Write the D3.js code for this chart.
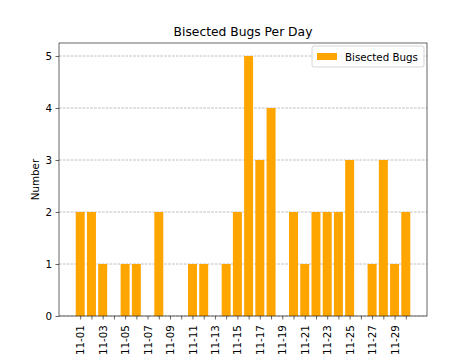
<!DOCTYPE html>
<html>
<head>
<meta charset="utf-8">
<script src="https://cdn.jsdelivr.net/npm/d3@7"></script>
<style>
  body { margin: 0; background: #fff; }
  text { font-family: "DejaVu Sans", sans-serif; }
</style>
</head>
<body>
<div id="chart"></div>
<script>
// days of November and bisected bug counts
const days = d3.range(1, 31).map(d => `11-${String(d).padStart(2, "0")}`)
const bugs = [2, 2, 1, 0, 1, 1, 0, 2, 0, 0, 1, 1, 0, 1, 2, 5, 3, 4, 0, 2, 1, 2, 2, 2, 3, 0, 1, 3, 1, 2]
const yTicks = [0, 1, 2, 3, 4, 5]

const width = 474,
    height = 355
const margin = { top: 43, right: 47, bottom: 39, left: 59 }
const innerW = width - margin.left - margin.right,
    innerH = height - margin.top - margin.bottom

const svg = d3.select("#chart")
    .append("svg")
    .attr("width", width)
    .attr("height", height)

const g = svg.append("g")
    .attr("transform", `translate(${margin.left},${margin.top})`)

// linear scale over day index, matplotlib-like padding
const x = d3.scaleLinear()
    .domain([-0.4 - 1.49, 29.4 + 1.49])
    .range([0, innerW])
const y = d3.scaleLinear()
    .domain([0, 5.25])
    .range([innerH, 0])

// gridlines
g.append("g")
    .selectAll("line")
    .data(yTicks)
    .join("line")
    .attr("x1", 0)
    .attr("x2", innerW)
    .attr("y1", d => y(d))
    .attr("y2", d => y(d))
    .attr("stroke", "#b0b0b0")
    .attr("stroke-width", 0.8)
    .attr("stroke-dasharray", "2.7,1.2")

// bars
const barW = x(0.8) - x(0)
g.append("g")
    .selectAll("rect")
    .data(bugs.map((v, i) => ({ day: days[i], i, v })).filter(d => d.v > 0))
    .join("rect")
    .attr("x", d => x(d.i) - barW / 2)
    .attr("width", barW)
    .attr("y", d => y(d.v))
    .attr("height", d => y(0) - y(d.v))
    .attr("fill", "#FFA500")

// x axis: tick at every day, label every other day
const xAxis = g.append("g")
    .attr("transform", `translate(0,${innerH})`)
    .call(d3.axisBottom(x)
        .tickValues(d3.range(days.length))
        .tickSize(3.5)
        .tickPadding(2.5)
        .tickFormat(i => i % 2 === 0 ? days[i] : ""))
xAxis.select(".domain").remove()
xAxis.selectAll("line").attr("stroke", "#000").attr("stroke-width", 0.6)
xAxis.selectAll("text")
    .attr("font-size", 10.3)
    .attr("fill", "#000")
    .attr("transform", "rotate(-90)")
    .attr("text-anchor", "end")
    .attr("dx", "-0.3em")
    .attr("dy", "0.35em")
    .attr("x", -6)
    .attr("y", 0)

// y axis
const yAxis = g.append("g")
    .call(d3.axisLeft(y)
        .tickValues(yTicks)
        .tickSize(3.5)
        .tickPadding(3.5)
        .tickFormat(d3.format("d")))
yAxis.select(".domain").remove()
yAxis.selectAll("line").attr("stroke", "#000").attr("stroke-width", 0.6)
yAxis.selectAll("text").attr("font-size", 10.3).attr("fill", "#000")

// frame
g.append("rect")
    .attr("width", innerW)
    .attr("height", innerH)
    .attr("fill", "none")
    .attr("stroke", "#000")
    .attr("stroke-width", 0.6)

// titles
svg.append("text")
    .attr("x", margin.left + innerW / 2)
    .attr("y", margin.top - 7)
    .attr("text-anchor", "middle")
    .attr("font-size", 12.3)
    .text("Bisected Bugs Per Day")

svg.append("text")
    .attr("transform", `translate(${margin.left - 20},${margin.top + innerH / 2}) rotate(-90)`)
    .attr("text-anchor", "middle")
    .attr("font-size", 10.3)
    .text("Number")

// legend
const legend = g.append("g")
    .attr("transform", `translate(${innerW - 115},3)`)
legend.append("rect")
    .attr("width", 112)
    .attr("height", 21)
    .attr("rx", 2)
    .attr("fill", "#fff")
    .attr("fill-opacity", 0.8)
    .attr("stroke", "#cccccc")
    .attr("stroke-width", 0.8)
legend.append("rect")
    .attr("x", 5)
    .attr("y", 7)
    .attr("width", 20)
    .attr("height", 7)
    .attr("fill", "#FFA500")
legend.append("text")
    .attr("x", 33)
    .attr("y", 14.5)
    .attr("font-size", 10.3)
    .text("Bisected Bugs")
</script>
</body>
</html>
